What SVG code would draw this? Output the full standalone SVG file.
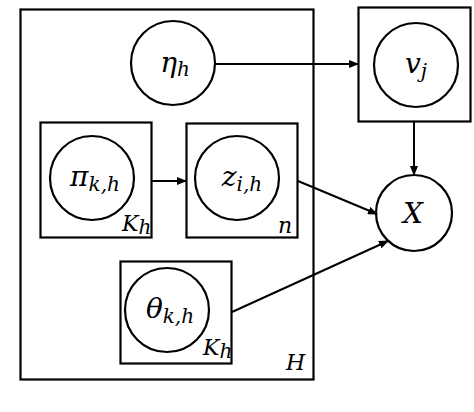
<svg xmlns="http://www.w3.org/2000/svg" width="474" height="412" viewBox="0 0 474 412">
<style>
.b{fill:none;stroke:#000;stroke-width:2.2}
.c{fill:#fff;stroke:#000;stroke-width:2.2}
.e{fill:none;stroke:#000;stroke-width:2}
.t{font-family:"DejaVu Serif","Liberation Serif",serif;font-style:italic;fill:#000}
.m{font-size:28px}
.s{font-size:20px}
.p{font-size:22px}
</style>
<defs>
<marker id="a" markerWidth="10" markerHeight="8" refX="9" refY="4" orient="auto" markerUnits="userSpaceOnUse">
<path d="M0,0 L10,4 L0,8 Z" fill="#000"/>
</marker>
</defs>
<rect width="474" height="412" fill="#fff"/>
<g id="plate-H">
<rect class="b" x="20.5" y="9.5" width="293" height="370"/>
<text class="t p" x="286" y="370">H</text>
</g>
<g id="node-eta">
<circle class="c" cx="173" cy="63" r="42"/>
<text class="t" x="175" y="72" text-anchor="middle"><tspan class="m">η</tspan><tspan class="s" dy="4">h</tspan></text>
</g>
<g id="node-v">
<rect class="b" x="358.5" y="7.5" width="112" height="114"/>
<circle class="c" cx="416" cy="65" r="42"/>
<text class="t" x="416" y="73" text-anchor="middle"><tspan class="m">v</tspan><tspan class="s" dy="5">j</tspan></text>
</g>
<g id="node-pi">
<rect class="b" x="40.5" y="122.5" width="111" height="115"/>
<circle class="c" cx="92" cy="178" r="42"/>
<text class="t" x="95" y="186" text-anchor="middle"><tspan class="m">π</tspan><tspan class="s" dy="5">k,h</tspan></text>
<text class="t" x="122" y="231"><tspan class="p">K</tspan><tspan class="s" dy="3">h</tspan></text>
</g>
<g id="node-z">
<rect class="b" x="186.5" y="123.5" width="111" height="114"/>
<circle class="c" cx="237" cy="178" r="42"/>
<text class="t" x="242" y="186" text-anchor="middle"><tspan class="m">z</tspan><tspan class="s" dy="5">i,h</tspan></text>
<text class="t p" x="278" y="233">n</text>
</g>
<g id="node-theta">
<rect class="b" x="120.5" y="261.5" width="111" height="102"/>
<circle class="c" cx="167" cy="310" r="42"/>
<text class="t" x="170" y="318" text-anchor="middle"><tspan class="m">θ</tspan><tspan class="s" dy="5">k,h</tspan></text>
<text class="t" x="203" y="355"><tspan class="p">K</tspan><tspan class="s" dy="3">h</tspan></text>
</g>
<g id="node-X">
<circle class="c" cx="414" cy="213" r="38"/>
<text class="t m" x="413" y="223" text-anchor="middle">X</text>
</g>
<g id="connectors">
<line class="e" x1="215" y1="64" x2="358" y2="64" marker-end="url(#a)"/>
<line class="e" x1="414" y1="122" x2="414" y2="175" marker-end="url(#a)"/>
<line class="e" x1="152" y1="181" x2="186" y2="181" marker-end="url(#a)"/>
<line class="e" x1="298" y1="181" x2="377" y2="214" marker-end="url(#a)"/>
<line class="e" x1="232" y1="312" x2="388" y2="241" marker-end="url(#a)"/>
</g>
</svg>
